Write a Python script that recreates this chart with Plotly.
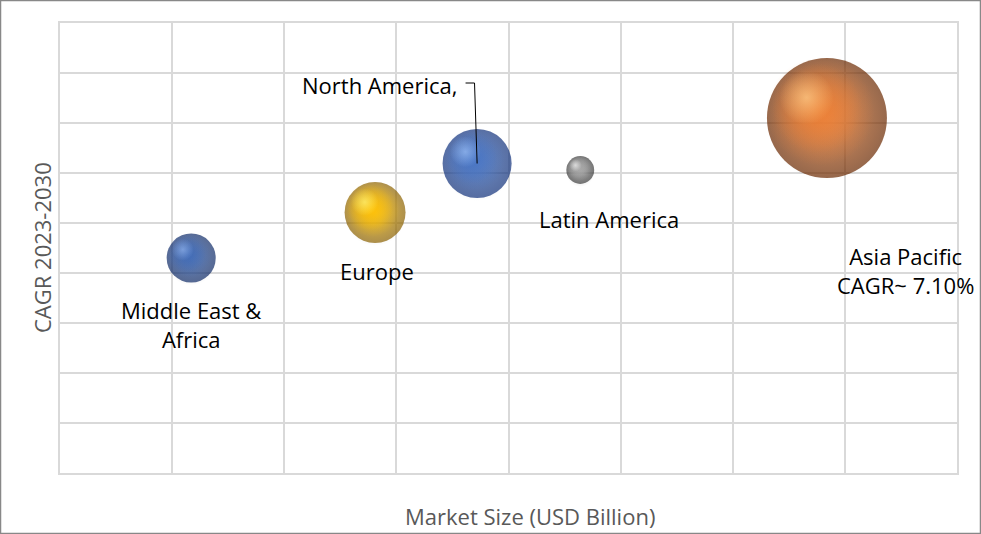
import plotly.graph_objects as go

# ---- data ----
regions = ["Middle East &<br>Africa", "Europe", "North America,", "Latin America", "Asia Pacific<br>CAGR~ 7.10%"]
market_size = [1.17, 2.81, 3.72, 4.64, 6.84]      # x (relative market size)
cagr = [4.30, 5.21, 6.19, 6.06, 7.10]             # y (relative CAGR)
bubble_size = [16.7, 25.8, 33.1, 5.4, 100.0]      # bubble value (area)

# ---- styles ----
edge_colors = ["#0f2a66", "#8a6000", "#10307a", "#3a3a3a", "#6a2800"]
mid_colors = ["#3d68b5", "#ffc000", "#4472c4", "#a5a5a5", "#ed7d31"]
hi_colors = ["#8fb2ec", "#fff47a", "#9cc0f6", "#f2f2f2", "#ffcf8c"]
label_offsets = [(0.0, -1.33), (0.02, -1.17), (-0.87, 1.57), (0.26, -0.98), (0.70, -3.05)]

MAX_D = 120
sizeref = 2.0 * max(bubble_size) / MAX_D ** 2
W, H = 981, 534
ML, MR, MT, MB = 60, 24, 23, 61
px_x = (W - ML - MR) / 8.0
px_y = (H - MT - MB) / 9.0


def rgba(hexc, a):
    c = hexc.lstrip("#")
    return f"rgba({int(c[0:2], 16)},{int(c[2:4], 16)},{int(c[4:6], 16)},{a})"


def diam(v):
    return (2.0 * v / sizeref) ** 0.5


fig = go.Figure()

# shadow
fig.add_trace(go.Scatter(
    x=market_size, y=[c - 3 / px_y for c in cagr], mode="markers",
    marker=dict(size=bubble_size, sizemode="area", sizeref=sizeref,
                color="rgba(0,0,0,0)", line=dict(width=0),
                gradient=dict(type="radial", color="rgba(0,0,0,0.3)")),
    hoverinfo="skip", showlegend=False))


def layer(i, scale_d, off, color_edge, color_center):
    d = diam(bubble_size[i])
    fig.add_trace(go.Scatter(
        x=[market_size[i] - off * d / px_x], y=[cagr[i] + off * d / px_y], mode="markers",
        marker=dict(size=[bubble_size[i] * scale_d ** 2], sizemode="area", sizeref=sizeref,
                    color=color_edge, line=dict(width=0),
                    gradient=dict(type="radial", color=color_center)),
        hoverinfo="skip", showlegend=False))


for i in range(len(regions)):
    layer(i, 1.0, 0.0, edge_colors[i], mid_colors[i])
    layer(i, 0.9, 0.055, rgba(mid_colors[i], 0), mid_colors[i])
    layer(i, 0.75, 0.08, rgba(mid_colors[i], 0), mid_colors[i])
    layer(i, 0.45, 0.17, rgba(hi_colors[i], 0), hi_colors[i])

font_family = "Open Sans, sans-serif"
annotations = []
for i, name in enumerate(regions):
    dx, dy = label_offsets[i]
    annotations.append(dict(x=market_size[i] + dx, y=cagr[i] + dy, xref="x", yref="y",
                            xanchor="center", yanchor="middle",
                            text=name, showarrow=False, align="center",
                            font=dict(family=font_family, size=22, color="#000000")))

annotations.append(dict(x=(530 - ML) / (W - ML - MR), y=(H - MB - 516) / (H - MT - MB),
                        xref="paper", yref="paper", xanchor="center", yanchor="middle",
                        text="Market Size (USD Billion)",
                        showarrow=False, font=dict(family=font_family, size=22, color="#595959")))
annotations.append(dict(x=(42 - ML) / (W - ML - MR), y=(H - MB - 248) / (H - MT - MB),
                        xref="paper", yref="paper", xanchor="center", yanchor="middle",
                        text="CAGR 2023-2030", textangle=-90,
                        showarrow=False, font=dict(family=font_family, size=22, color="#595959")))

# leader line for North America
na = 2
lx0 = market_size[na] + label_offsets[na][0] + 86 / px_x
ly0 = cagr[na] + label_offsets[na][1] + 0.04
shapes = [
    dict(type="path", xref="x", yref="y",
         path=f"M {lx0:.3f},{ly0:.3f} L {lx0 + 9 / px_x:.3f},{ly0:.3f} L {market_size[na]:.3f},{cagr[na]:.3f}",
         line=dict(color="#000000", width=1)),
    dict(type="rect", xref="paper", yref="paper",
         x0=-(ML - 0.5) / (W - ML - MR), x1=1 + (MR - 0.5) / (W - ML - MR),
         y0=-(MB - 0.5) / (H - MT - MB), y1=1 + (MT - 0.5) / (H - MT - MB),
         line=dict(color="#888888", width=1.5), layer="below"),
]

fig.update_layout(
    width=W, height=H,
    margin=dict(l=ML, r=MR, t=MT, b=MB),
    paper_bgcolor="white", plot_bgcolor="white",
    xaxis=dict(range=[0, 8], dtick=1, tick0=0, showticklabels=False, ticks="",
               showgrid=True, gridcolor="#d9d9d9", gridwidth=2, zeroline=False,
               showline=True, linecolor="#d9d9d9", linewidth=2, mirror=True, fixedrange=True),
    yaxis=dict(range=[0, 9], dtick=1, tick0=0, showticklabels=False, ticks="",
               showgrid=True, gridcolor="#d9d9d9", gridwidth=2, zeroline=False,
               showline=True, linecolor="#d9d9d9", linewidth=2, mirror=True, fixedrange=True),
    annotations=annotations, shapes=shapes, showlegend=False,
)

fig.write_html("out.html", config={"displayModeBar": False},
               post_script="document.body.style.margin='0';document.body.style.padding='0';")
